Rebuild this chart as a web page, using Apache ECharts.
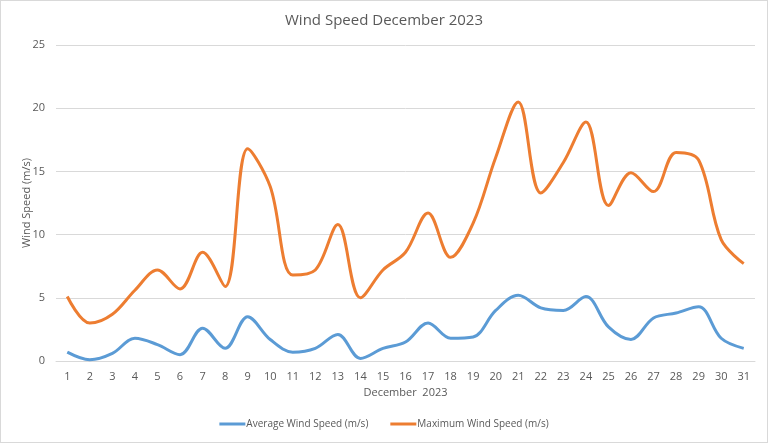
<!DOCTYPE html>
<html>
<head>
<meta charset="utf-8">
<script src="https://cdn.jsdelivr.net/npm/echarts@6/dist/echarts.min.js"></script>
<style>
  html, body { margin: 0; padding: 0; background: #fff; }
  #chart { width: 766px; height: 441px; border: 1px solid #d9d9d9; }
</style>
</head>
<body>
<div id="chart"></div>
<script>
  var days = [];
  for (var d = 1; d <= 31; d++) days.push(String(d));
  var avgSpeed = [0.7, 0.1, 0.6, 1.8, 1.3, 0.5, 2.6, 1.0, 3.5, 1.7, 0.7, 1.0, 2.1, 0.2, 1.0, 1.5,
                  3.0, 1.8, 1.9, 4.0, 5.2, 4.2, 4.0, 5.1, 2.7, 1.7, 3.4, 3.8, 4.3, 1.8, 1.0];
  var maxSpeed = [5.1, 3.0, 3.7, 5.6, 7.2, 5.7, 8.6, 5.9, 16.8, 13.8, 6.8, 7.2, 10.8, 5.0, 7.2, 8.6,
                  11.7, 8.2, 10.9, 16.1, 20.5, 13.3, 15.7, 18.9, 12.3, 14.9, 13.4, 16.5, 15.9, 9.6, 7.7];

  var chart = echarts.init(document.getElementById('chart'));
  var txt = '#595959';
  chart.setOption({
    animation: false,
    textStyle: { fontFamily: 'Open Sans' },
    title: {
      text: 'Wind Speed December 2023',
      left: 'center',
      top: 7,
      textStyle: { fontSize: 15, fontWeight: 'normal', color: txt }
    },
    legend: {
      bottom: 8,
      left: 'center',
      itemGap: 22,
      itemWidth: 26,
      itemHeight: 3,
      icon: 'rect',
      textStyle: { fontSize: 10, color: txt, padding: [0, 0, 0, -4] },
      data: ['Average Wind Speed (m/s)', 'Maximum Wind Speed (m/s)']
    },
    grid: { left: 55, right: 12, top: 44, bottom: 81, outerBoundsMode: 'none' },
    xAxis: {
      type: 'category',
      data: days,
      name: 'December  2023',
      nameLocation: 'middle',
      nameGap: 26,
      nameTextStyle: { fontSize: 11, color: txt },
      axisLine: { lineStyle: { color: '#d9d9d9' } },
      axisTick: { show: false },
      axisLabel: { fontSize: 11, color: txt, margin: 10 }
    },
    yAxis: {
      type: 'value',
      min: 0,
      max: 25,
      interval: 5,
      name: 'Wind Speed (m/s)',
      nameLocation: 'middle',
      nameGap: 24,
      nameMoveOverlap: false,
      nameTextStyle: { fontSize: 11, color: txt },
      axisLabel: { fontSize: 11, color: txt, margin: 11 },
      splitLine: { lineStyle: { color: '#d9d9d9' } }
    },
    series: [
      {
        name: 'Average Wind Speed (m/s)',
        type: 'line',
        smooth: 0.35,
        showSymbol: false,
        data: avgSpeed,
        itemStyle: { color: '#5b9bd5' },
        lineStyle: { width: 3, color: '#5b9bd5' }
      },
      {
        name: 'Maximum Wind Speed (m/s)',
        type: 'line',
        smooth: 0.35,
        showSymbol: false,
        data: maxSpeed,
        itemStyle: { color: '#ed7d31' },
        lineStyle: { width: 3, color: '#ed7d31' }
      }
    ]
  });
</script>
</body>
</html>
